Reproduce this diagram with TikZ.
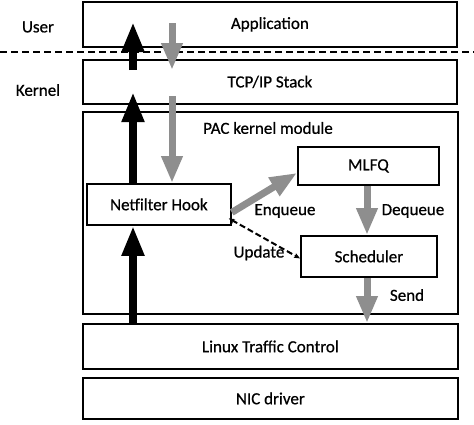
\documentclass[tikz,border=0pt]{standalone}
\usepackage{fontspec}
\setmainfont{Carlito}
\newfontfamily\lblfont{Carlito}[FakeBold=0.6]
\usetikzlibrary{arrows.meta,calc}
\definecolor{arrgray}{HTML}{8E8E8E}
\begin{document}
\begin{tikzpicture}[x=1pt,y=-1pt,
  layer/.style={draw=black,line width=1.8pt,fill=white,inner sep=0pt,anchor=north west},
  lbl/.style={font=\lblfont\fontsize{17}{20}\selectfont,inner sep=0pt},
  blackarrow/.style={draw=black,line width=8pt,-{Triangle[width=21pt,length=30pt]}},
  grayarrow/.style={draw=arrgray,line width=7pt,-{Triangle[width=20pt,length=27pt]}},
  updline/.style={draw=black,line width=2pt,dash pattern=on 6pt off 3pt,{Stealth[length=6pt,width=5pt]}-{Stealth[length=6pt,width=5pt]}}
]
\useasboundingbox (0,0) rectangle (474,424);
% layers
\node[layer,minimum width=374pt,minimum height=45pt] (app) at (82,1) {};
\node[lbl] at (app.center) {Application};
\node[layer,minimum width=374pt,minimum height=44pt] (tcp) at (82,59) {};
\node[lbl] at (tcp.center) {TCP/IP Stack};
\node[layer,minimum width=375pt,minimum height=202pt] (pac) at (82,111) {};
\node[lbl] (pactext) at (268,128) {PAC kernel module};
\node[layer,minimum width=375pt,minimum height=45pt] (ltc) at (82,323) {};
\node[lbl] at (ltc.center) {Linux Traffic Control};
\node[layer,minimum width=375pt,minimum height=41pt] (nic) at (82,377) {};
\node[lbl] at (nic.center) {NIC driver};
% inner boxes
\node[layer,minimum width=144pt,minimum height=41pt] (nf) at (86,183) {};
\node[lbl] at (nf.center) {Netfilter Hook};
\node[layer,minimum width=141pt,minimum height=38pt] (mlfq) at (297,146) {};
\node[lbl] at (mlfq.center) {MLFQ};
\node[layer,minimum width=136pt,minimum height=41pt] (sch) at (300,235) {};
\node[lbl] at (sch.center) {Scheduler};
% side labels
\node[lbl] (user) at (38,27) {User};
\node[lbl] (kernel) at (38,90) {Kernel};
% dashed separator
\coordinate (sepL) at (0,52);
\coordinate (sepR) at (474,52);
\draw[line width=2pt,dash pattern=on 7pt off 4pt] (sepL) -- (sepR);
% arrow guide coordinates
\coordinate (bx) at (133,0);
\coordinate (gx) at (172,0);
\coordinate (a1s) at (133,70);
\coordinate (a1e) at (133,22);
\coordinate (a3e) at (133,92);
\coordinate (g1s) at (172,23);
\coordinate (g1e) at (172,70);
\coordinate (g2s) at (172,96);
\coordinate (dx) at (367,0);
% black arrows
\draw[blackarrow] (ltc.north -| bx) -- (nf.south -| bx);
\draw[blackarrow] (nf.north -| bx) -- (a3e);
\draw[blackarrow] (a1s) -- (a1e);
% gray arrows
\draw[grayarrow] (g1s) -- (g1e);
\draw[grayarrow] (g2s) -- (nf.north -| gx);
\draw[grayarrow] ($(nf.east)+(0,8)$) -- ($(mlfq.west)+(0,7)$);
\draw[grayarrow] (mlfq.south -| dx) -- (sch.north -| dx);
\draw[grayarrow] (sch.south -| dx) -- (ltc.north -| dx);
% update dashed
\draw[updline] ($(nf.east)+(-3,14)$) -- ($(sch.west)+(0,2)$);
% labels
\node[lbl] (enq) at (285,211) {Enqueue};
\node[lbl] (deq) at (413,211) {Dequeue};
\node[lbl] (upd) at (259,253) {Update};
\node[lbl] (send) at (407,295) {Send};
\end{tikzpicture}
\end{document}
